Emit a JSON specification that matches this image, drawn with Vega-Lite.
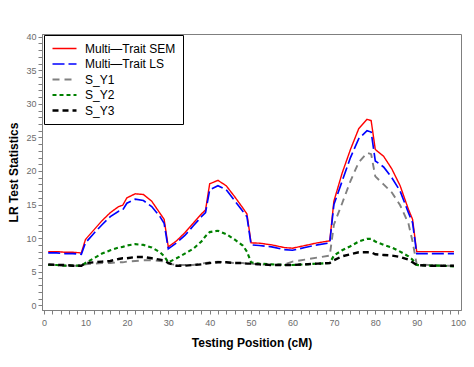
{
  "$schema": "https://vega.github.io/schema/vega-lite/v6.json",
  "autosize": "none",
  "width": 419,
  "height": 276,
  "padding": {"left": 42, "top": 34, "right": 13, "bottom": 57},
  "background": "white",
  "config": {
    "view": {"stroke": "#7f7f7f", "strokeWidth": 1},
    "font": "Liberation Sans",
    "axis": {
      "grid": false,
      "domainColor": "#7f7f7f",
      "tickColor": "#7f7f7f",
      "tickSize": 4,
      "labelColor": "#6b6b6b",
      "labelFontSize": 9,
      "labelFont": "Liberation Sans",
      "titleFont": "Liberation Sans",
      "titleFontSize": 12,
      "titleFontWeight": "bold",
      "titleColor": "black",
      "labelOverlap": false
    }
  },
  "data": {
    "values": [
      {"x": 1, "Multi—Trait SEM": 8.0, "Multi—Trait LS": 7.8, "S_Y1": 6.0, "S_Y2": 6.0, "S_Y3": 6.1},
      {"x": 3, "Multi—Trait SEM": 8.0, "Multi—Trait LS": 7.8, "S_Y1": 6.0, "S_Y2": 6.0, "S_Y3": 6.0},
      {"x": 5, "Multi—Trait SEM": 7.9, "Multi—Trait LS": 7.7, "S_Y1": 5.9, "S_Y2": 5.9, "S_Y3": 6.0},
      {"x": 7, "Multi—Trait SEM": 7.9, "Multi—Trait LS": 7.7, "S_Y1": 5.9, "S_Y2": 5.9, "S_Y3": 5.9},
      {"x": 9, "Multi—Trait SEM": 7.8, "Multi—Trait LS": 7.6, "S_Y1": 5.9, "S_Y2": 5.9, "S_Y3": 5.9},
      {"x": 10, "Multi—Trait SEM": 9.8, "Multi—Trait LS": 9.3, "S_Y1": 6.1, "S_Y2": 6.3, "S_Y3": 6.3},
      {"x": 12, "Multi—Trait SEM": 11.2, "Multi—Trait LS": 10.7, "S_Y1": 6.2, "S_Y2": 7.0, "S_Y3": 6.4},
      {"x": 14, "Multi—Trait SEM": 12.6, "Multi—Trait LS": 12.0, "S_Y1": 6.3, "S_Y2": 7.7, "S_Y3": 6.5},
      {"x": 16, "Multi—Trait SEM": 13.8, "Multi—Trait LS": 13.2, "S_Y1": 6.3, "S_Y2": 8.2, "S_Y3": 6.6},
      {"x": 18, "Multi—Trait SEM": 14.7, "Multi—Trait LS": 14.0, "S_Y1": 6.4, "S_Y2": 8.6, "S_Y3": 6.9},
      {"x": 19, "Multi—Trait SEM": 14.9, "Multi—Trait LS": 14.2, "S_Y1": 6.4, "S_Y2": 8.7, "S_Y3": 7.0},
      {"x": 20, "Multi—Trait SEM": 16.0, "Multi—Trait LS": 15.2, "S_Y1": 6.5, "S_Y2": 8.9, "S_Y3": 7.0},
      {"x": 22, "Multi—Trait SEM": 16.6, "Multi—Trait LS": 15.8, "S_Y1": 6.6, "S_Y2": 9.1, "S_Y3": 7.2},
      {"x": 24, "Multi—Trait SEM": 16.5, "Multi—Trait LS": 15.6, "S_Y1": 6.7, "S_Y2": 9.0, "S_Y3": 7.2},
      {"x": 26, "Multi—Trait SEM": 15.5, "Multi—Trait LS": 14.7, "S_Y1": 6.7, "S_Y2": 8.6, "S_Y3": 7.0},
      {"x": 28, "Multi—Trait SEM": 13.7, "Multi—Trait LS": 13.2, "S_Y1": 6.6, "S_Y2": 7.9, "S_Y3": 6.8},
      {"x": 29, "Multi—Trait SEM": 12.8, "Multi—Trait LS": 12.2, "S_Y1": 6.5, "S_Y2": 7.3, "S_Y3": 6.7},
      {"x": 30, "Multi—Trait SEM": 8.7, "Multi—Trait LS": 8.4, "S_Y1": 6.2, "S_Y2": 6.4, "S_Y3": 6.3},
      {"x": 32, "Multi—Trait SEM": 9.6, "Multi—Trait LS": 9.3, "S_Y1": 6.0, "S_Y2": 7.0, "S_Y3": 5.9},
      {"x": 34, "Multi—Trait SEM": 10.8, "Multi—Trait LS": 10.4, "S_Y1": 6.0, "S_Y2": 7.7, "S_Y3": 5.9},
      {"x": 36, "Multi—Trait SEM": 12.2, "Multi—Trait LS": 11.8, "S_Y1": 6.0, "S_Y2": 8.4, "S_Y3": 6.0},
      {"x": 38, "Multi—Trait SEM": 13.6, "Multi—Trait LS": 13.2, "S_Y1": 6.2, "S_Y2": 9.5, "S_Y3": 6.1},
      {"x": 39, "Multi—Trait SEM": 14.2, "Multi—Trait LS": 13.8, "S_Y1": 6.3, "S_Y2": 10.3, "S_Y3": 6.2},
      {"x": 40, "Multi—Trait SEM": 18.1, "Multi—Trait LS": 17.2, "S_Y1": 6.4, "S_Y2": 10.9, "S_Y3": 6.3},
      {"x": 42, "Multi—Trait SEM": 18.6, "Multi—Trait LS": 17.8, "S_Y1": 6.5, "S_Y2": 11.1, "S_Y3": 6.4},
      {"x": 44, "Multi—Trait SEM": 17.8, "Multi—Trait LS": 17.2, "S_Y1": 6.4, "S_Y2": 10.6, "S_Y3": 6.4},
      {"x": 46, "Multi—Trait SEM": 16.2, "Multi—Trait LS": 15.6, "S_Y1": 6.3, "S_Y2": 9.8, "S_Y3": 6.3},
      {"x": 48, "Multi—Trait SEM": 14.5, "Multi—Trait LS": 14.0, "S_Y1": 6.3, "S_Y2": 8.9, "S_Y3": 6.3},
      {"x": 49, "Multi—Trait SEM": 13.6, "Multi—Trait LS": 13.2, "S_Y1": 6.2, "S_Y2": 8.0, "S_Y3": 6.2},
      {"x": 50, "Multi—Trait SEM": 9.3, "Multi—Trait LS": 9.0, "S_Y1": 6.2, "S_Y2": 6.4, "S_Y3": 6.2},
      {"x": 52, "Multi—Trait SEM": 9.25, "Multi—Trait LS": 8.9, "S_Y1": 6.1, "S_Y2": 6.2, "S_Y3": 6.1},
      {"x": 55, "Multi—Trait SEM": 9.0, "Multi—Trait LS": 8.7, "S_Y1": 6.0, "S_Y2": 6.1, "S_Y3": 6.0},
      {"x": 58, "Multi—Trait SEM": 8.6, "Multi—Trait LS": 8.3, "S_Y1": 6.1, "S_Y2": 6.0, "S_Y3": 6.0},
      {"x": 60, "Multi—Trait SEM": 8.5, "Multi—Trait LS": 8.2, "S_Y1": 6.5, "S_Y2": 6.0, "S_Y3": 6.0},
      {"x": 63, "Multi—Trait SEM": 8.9, "Multi—Trait LS": 8.6, "S_Y1": 6.8, "S_Y2": 6.1, "S_Y3": 6.1},
      {"x": 66, "Multi—Trait SEM": 9.3, "Multi—Trait LS": 9.0, "S_Y1": 7.1, "S_Y2": 6.2, "S_Y3": 6.2},
      {"x": 69, "Multi—Trait SEM": 9.6, "Multi—Trait LS": 9.3, "S_Y1": 7.4, "S_Y2": 6.3, "S_Y3": 6.3},
      {"x": 70, "Multi—Trait SEM": 15.5, "Multi—Trait LS": 15.0, "S_Y1": 12.0, "S_Y2": 7.4, "S_Y3": 6.7},
      {"x": 72, "Multi—Trait SEM": 19.7, "Multi—Trait LS": 18.5, "S_Y1": 15.2, "S_Y2": 8.2, "S_Y3": 7.3},
      {"x": 74, "Multi—Trait SEM": 23.2, "Multi—Trait LS": 22.0, "S_Y1": 18.5, "S_Y2": 8.8, "S_Y3": 7.6},
      {"x": 76, "Multi—Trait SEM": 26.3, "Multi—Trait LS": 24.8, "S_Y1": 21.3, "S_Y2": 9.5, "S_Y3": 7.9},
      {"x": 78, "Multi—Trait SEM": 27.7, "Multi—Trait LS": 26.0, "S_Y1": 22.7, "S_Y2": 9.9, "S_Y3": 7.9},
      {"x": 79, "Multi—Trait SEM": 27.5, "Multi—Trait LS": 25.8, "S_Y1": 22.5, "S_Y2": 9.9, "S_Y3": 7.9},
      {"x": 80, "Multi—Trait SEM": 23.2, "Multi—Trait LS": 21.5, "S_Y1": 19.2, "S_Y2": 9.5, "S_Y3": 7.6},
      {"x": 82, "Multi—Trait SEM": 22.2, "Multi—Trait LS": 20.6, "S_Y1": 18.0, "S_Y2": 9.0, "S_Y3": 7.5},
      {"x": 84, "Multi—Trait SEM": 20.3, "Multi—Trait LS": 19.0, "S_Y1": 16.8, "S_Y2": 8.6, "S_Y3": 7.4},
      {"x": 86, "Multi—Trait SEM": 17.8, "Multi—Trait LS": 17.0, "S_Y1": 14.9, "S_Y2": 8.0, "S_Y3": 7.2},
      {"x": 88, "Multi—Trait SEM": 14.3, "Multi—Trait LS": 13.8, "S_Y1": 12.2, "S_Y2": 7.3, "S_Y3": 6.8},
      {"x": 89, "Multi—Trait SEM": 12.8, "Multi—Trait LS": 12.3, "S_Y1": 9.5, "S_Y2": 6.8, "S_Y3": 6.4},
      {"x": 90, "Multi—Trait SEM": 8.0, "Multi—Trait LS": 7.7, "S_Y1": 6.1, "S_Y2": 6.0, "S_Y3": 6.0},
      {"x": 93, "Multi—Trait SEM": 8.0, "Multi—Trait LS": 7.7, "S_Y1": 6.0, "S_Y2": 5.9, "S_Y3": 5.9},
      {"x": 96, "Multi—Trait SEM": 8.0, "Multi—Trait LS": 7.7, "S_Y1": 5.9, "S_Y2": 5.9, "S_Y3": 5.9},
      {"x": 99, "Multi—Trait SEM": 8.0, "Multi—Trait LS": 7.7, "S_Y1": 5.9, "S_Y2": 5.8, "S_Y3": 5.9}
    ]
  },
  "transform": [
    {"fold": ["Multi—Trait SEM", "Multi—Trait LS", "S_Y1", "S_Y2", "S_Y3"], "as": ["series", "value"]}
  ],
  "mark": {"type": "line", "clip": true},
  "encoding": {
    "x": {
      "field": "x", "type": "quantitative",
      "scale": {"domain": [-0.5, 100.7], "nice": false, "zero": false},
      "axis": {
        "title": "Testing Position (cM)",
        "values": [0,2,4,6,8,10,12,14,16,18,20,22,24,26,28,30,32,34,36,38,40,42,44,46,48,50,52,54,56,58,60,62,64,66,68,70,72,74,76,78,80,82,84,86,88,90,92,94,96,98,100],
        "labelExpr": "datum.value % 10 === 0 ? datum.label : ''",
        "labelPadding": 4,
        "titlePadding": 10
      }
    },
    "y": {
      "field": "value", "type": "quantitative",
      "scale": {"domain": [-0.7, 40.4], "nice": false, "zero": false},
      "axis": {
        "title": "LR Test Statistics",
        "values": [0,1,2,3,4,5,6,7,8,9,10,11,12,13,14,15,16,17,18,19,20,21,22,23,24,25,26,27,28,29,30,31,32,33,34,35,36,37,38,39,40],
        "labelExpr": "datum.value % 5 === 0 ? datum.label : ''",
        "labelPadding": 2,
        "titlePadding": 5
      }
    },
    "color": {
      "field": "series", "type": "nominal",
      "scale": {
        "domain": ["Multi—Trait SEM", "Multi—Trait LS", "S_Y1", "S_Y2", "S_Y3"],
        "range": ["#ff0000", "#0000ff", "#808080", "#008000", "#000000"]
      },
      "legend": {
        "title": null,
        "orient": "none",
        "legendX": 2,
        "legendY": 1,
        "strokeColor": "black",
        "fillColor": "white",
        "padding": 7,
        "symbolType": "stroke",
        "symbolSize": 576,
        "symbolStrokeWidth": 2,
        "clipHeight": 13,
        "labelFontSize": 12,
        "labelFont": "Liberation Sans",
        "labelColor": "black",
        "labelOffset": 7,
        "rowPadding": 2.5,
        "labelLimit": 200
      }
    },
    "strokeDash": {
      "field": "series", "type": "nominal",
      "scale": {
        "domain": ["Multi—Trait SEM", "Multi—Trait LS", "S_Y1", "S_Y2", "S_Y3"],
        "range": [[1, 0], [12, 4], [7, 5], [4, 3], [6, 4]]
      }
    },
    "strokeWidth": {
      "field": "series", "type": "nominal",
      "scale": {
        "domain": ["Multi—Trait SEM", "Multi—Trait LS", "S_Y1", "S_Y2", "S_Y3"],
        "range": [1.4, 2.4, 2, 2, 2.4]
      },
      "legend": null
    }
  }
}
